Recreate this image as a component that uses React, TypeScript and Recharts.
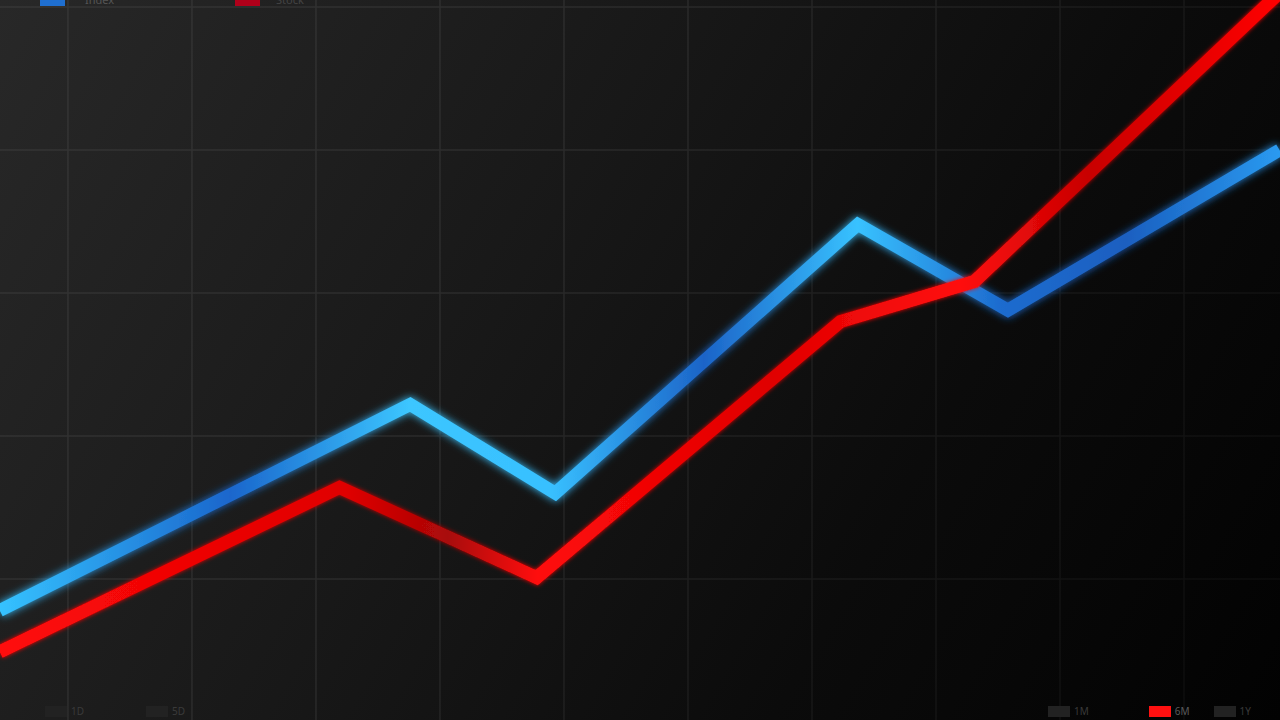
import { LineChart, Line, XAxis, YAxis, CartesianGrid, Legend } from "recharts";

// time in grid columns, value in index points
const blueTimes = [-0.55, 2.76, 3.93, 6.37, 7.58, 9.77];
const blueValues = [-2.2, 12.2, 6.0, 24.8, 18.8, 30.0];
const redTimes = [-0.55, 2.19, 3.78, 6.23, 7.31, 9.77];
const redValues = [-5.1, 6.4, 0.1, 18.0, 20.8, 41.0];

const seriesNames = ["Index", "Stock"];
const xTicks = [0, 1, 2, 3, 4, 5, 6, 7, 8, 9];
const yTicks = [0, 10, 20, 30, 40];
const leftRanges = ["1D", "5D"];
const rightRanges = ["1M", "6M", "1Y"];
const activeRange = "6M";

const xDomain: [number, number] = [-0.548, 9.774];
const yDomain: [number, number] = [-9.86, 40.49];

const blueData = blueTimes.map((t, i) => ({ t, v: blueValues[i] }));
const redData = redTimes.map((t, i) => ({ t, v: redValues[i] }));

const W = 1280;
const H = 720;

const TopLegend = () => (
  <div style={{ display: "flex", position: "absolute", top: -8, left: 40, fontFamily: "Noto Sans", fontSize: 11 }}>
    <div style={{ display: "flex", alignItems: "center", width: 195 }}>
      <span style={{ width: 25, height: 12, background: "#1f6fd0", display: "inline-block", marginRight: 20 }} />
      <span style={{ color: "#555" }}>{seriesNames[0]}</span>
    </div>
    <div style={{ display: "flex", alignItems: "center" }}>
      <span style={{ width: 25, height: 12, background: "#b0001a", display: "inline-block", marginRight: 16 }} />
      <span style={{ color: "#444" }}>{seriesNames[1]}</span>
    </div>
  </div>
);

const RangeButton = ({ label }: { label: string }) => (
  <div style={{ display: "flex", alignItems: "center", marginRight: 20 }}>
    <span
      style={{
        width: 22,
        height: 11,
        display: "inline-block",
        marginRight: 4,
        background: label === activeRange ? "#ff1010" : "#222",
      }}
    />
    <span style={{ color: label === activeRange ? "#5a5a5a" : "#3a3a3a", fontSize: 10 }}>{label}</span>
  </div>
);

// grid lines only at the tick values, not at the plot edges
const vGrid = (p: any) => {
  const left = p?.offset?.left ?? 0;
  const w = p?.offset?.width ?? W;
  return xTicks.map((t) => left + ((t - xDomain[0]) / (xDomain[1] - xDomain[0])) * w);
};
const hGrid = (p: any) => {
  const top = p?.offset?.top ?? 0;
  const h = p?.offset?.height ?? H;
  return yTicks.map((v) => top + ((yDomain[1] - v) / (yDomain[1] - yDomain[0])) * h);
};

export default function App() {
  return (
    <div
      style={{
        position: "absolute",
        left: 0,
        top: 0,
        width: W,
        height: H,
        overflow: "hidden",
        background: "linear-gradient(120deg, #282828 0%, #181818 40%, #0b0b0b 70%, #020202 100%)",
      }}
    >
      <LineChart width={W} height={H} margin={{ top: 0, right: 0, bottom: 0, left: 0 }}>
        <defs>
          <linearGradient id="gridGrad" gradientUnits="userSpaceOnUse" x1="0" y1="0" x2={W} y2={H}>
            <stop offset="0%" stopColor="#363636" />
            <stop offset="40%" stopColor="#2a2a2a" />
            <stop offset="70%" stopColor="#181818" />
            <stop offset="100%" stopColor="#0a0a0a" />
          </linearGradient>
          <linearGradient id="blueGrad" gradientUnits="userSpaceOnUse" x1="0" y1="0" x2={W} y2="0">
            <stop offset="0%" stopColor="#35c2ff" />
            <stop offset="18%" stopColor="#1a66cc" />
            <stop offset="32%" stopColor="#3cc6ff" />
            <stop offset="43%" stopColor="#38c0ff" />
            <stop offset="55%" stopColor="#1c64c8" />
            <stop offset="67%" stopColor="#38c2ff" />
            <stop offset="78%" stopColor="#1d6ccf" />
            <stop offset="88%" stopColor="#1a5fc0" />
            <stop offset="100%" stopColor="#2a9af0" />
          </linearGradient>
          <linearGradient id="redGrad" gradientUnits="userSpaceOnUse" x1="0" y1="0" x2={W} y2="0">
            <stop offset="0%" stopColor="#ff0a0a" />
            <stop offset="27%" stopColor="#e00000" />
            <stop offset="35%" stopColor="#a80808" />
            <stop offset="42%" stopColor="#ff0a0a" />
            <stop offset="60%" stopColor="#e00000" />
            <stop offset="75%" stopColor="#ff1010" />
            <stop offset="85%" stopColor="#c80000" />
            <stop offset="100%" stopColor="#ff0505" />
          </linearGradient>
          <filter id="glowBlue" x="-10%" y="-10%" width="120%" height="120%">
            <feGaussianBlur in="SourceGraphic" stdDeviation="4" result="blur" />
            <feMerge>
              <feMergeNode in="blur" />
              <feMergeNode in="SourceGraphic" />
            </feMerge>
          </filter>
          <filter id="glowRed" x="-10%" y="-10%" width="120%" height="120%">
            <feGaussianBlur in="SourceGraphic" stdDeviation="2" result="blur" />
            <feMerge>
              <feMergeNode in="blur" />
              <feMergeNode in="SourceGraphic" />
            </feMerge>
          </filter>
        </defs>
        <CartesianGrid
          stroke="url(#gridGrad)"
          strokeWidth={1.5}
          horizontalCoordinatesGenerator={hGrid}
          verticalCoordinatesGenerator={vGrid}
        />
        <XAxis type="number" dataKey="t" domain={xDomain} ticks={xTicks} allowDataOverflow hide />
        <YAxis type="number" dataKey="v" domain={yDomain} ticks={yTicks} allowDataOverflow hide />
        <Line
          data={blueData}
          dataKey="v"
          name={seriesNames[0]}
          type="linear"
          stroke="url(#blueGrad)"
          strokeWidth={13}
          strokeLinejoin="miter"
          dot={false}
          filter="url(#glowBlue)"
          isAnimationActive={false}
        />
        <Line
          data={redData}
          dataKey="v"
          name={seriesNames[1]}
          type="linear"
          stroke="url(#redGrad)"
          strokeWidth={13}
          strokeLinejoin="miter"
          dot={false}
          filter="url(#glowRed)"
          isAnimationActive={false}
        />
        <Legend content={() => null} />
      </LineChart>
      <TopLegend />
      <div style={{ position: "absolute", left: 45, top: 704, display: "flex", fontFamily: "Noto Sans" }}>
        {leftRanges.map((r) => (
          <div key={r} style={{ marginRight: 42 }}>
            <RangeButton label={r} />
          </div>
        ))}
      </div>
      <div style={{ position: "absolute", left: 1048, top: 704, display: "flex", fontFamily: "Noto Sans" }}>
        {rightRanges.map((r) => (
          <div key={r} style={{ marginRight: r === "1M" ? 40 : 4 }}>
            <RangeButton label={r} />
          </div>
        ))}
      </div>
    </div>
  );
}
